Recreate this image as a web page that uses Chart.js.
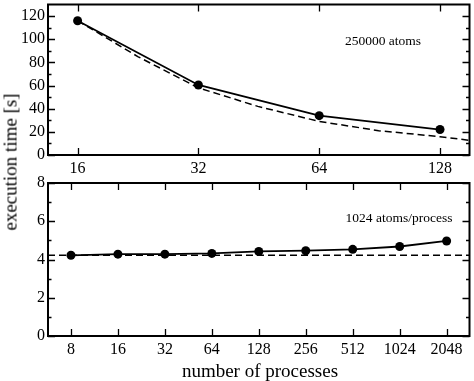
<!DOCTYPE html>
<html>
<head>
<meta charset="utf-8">
<script src="https://cdn.jsdelivr.net/npm/chart.js@4.4.1/dist/chart.umd.min.js"></script>
<style>
  html, body { margin: 0; padding: 0; background: #fff; }
  #wrap { position: relative; width: 474px; height: 381px; overflow: hidden; font-family: 'Liberation Serif', 'DejaVu Serif', serif; color: #000; }
  #wrap canvas { position: absolute; left: 0; }
  .txt { position: absolute; white-space: nowrap; line-height: 1; }
</style>
</head>
<body>
<div id="wrap">
  <canvas id="topChart" width="474" height="175" style="top:0"></canvas>
  <canvas id="botChart" width="474" height="206" style="top:175px"></canvas>
  <div class="txt" style="left:383px; top:34px; font-size:13.5px; transform:translateX(-50%)">250000 atoms</div>
  <div class="txt" style="left:399px; top:211px; font-size:13.5px; transform:translateX(-50%)">1024 atoms/process</div>
  <div class="txt" style="left:260px; top:361px; font-size:19px; transform:translateX(-50%)">number of processes</div>
  <div class="txt" style="left:9.5px; top:162px; font-size:19px; transform:translate(-50%,-50%) rotate(-90deg)">execution time [s]</div>
</div>
<script>
// strong scaling, 250000 atoms
var procTop = [16, 32, 64, 128];
var timeTop = [116, 60.5, 34, 22];
// ideal scaling line
var idealTopX = [16, 22.6, 32, 45, 64, 90, 128, 151.6];
var idealTopY = [116, 85, 58, 42, 29, 21, 15.8, 12.7];
var yTicksTop = [0, 10, 20, 30, 40, 50, 60, 70, 80, 90, 100, 110, 120];

// weak scaling, 1024 atoms/process
var procBot = [8, 16, 32, 64, 128, 256, 512, 1024, 2048];
var timeBot = [4.22, 4.28, 4.28, 4.32, 4.42, 4.46, 4.53, 4.68, 4.97];
var idealBotX = [5.7, 2871];
var idealBotY = [4.22, 4.22];
var yTicksBot = [0, 1, 2, 3, 4, 5, 6, 7, 8];

var serif = "'Liberation Serif', 'DejaVu Serif', serif";

function pts(xs, ys){
	var out = [];
	for(var i=0; i<xs.length; i++){
		out.push({x: xs[i], y: ys[i]});
	}
	return out;
}

// frame plus inward ticks on all four sides
var frameTicks = {
	id: 'frameTicks',
	afterDraw: function(chart, args, opts){
		var ctx = chart.ctx;
		var a = chart.chartArea;
		var xs = chart.scales.x, ys = chart.scales.y;
		ctx.save();
		ctx.strokeStyle = '#000';
		ctx.lineWidth = 1.3;
		ctx.beginPath();
		xs.ticks.forEach(function(t){
			var px = Math.round(xs.getPixelForValue(t.value)) + 0.5;
			ctx.moveTo(px, a.bottom); ctx.lineTo(px, a.bottom - 7);
			ctx.moveTo(px, a.top); ctx.lineTo(px, a.top + 7);
		});
		ys.ticks.forEach(function(t){
			var py = Math.round(ys.getPixelForValue(t.value)) + 0.5;
			var len = (t.value % opts.major === 0) ? 7 : 3.5;
			ctx.moveTo(a.left, py); ctx.lineTo(a.left + len, py);
			ctx.moveTo(a.right, py); ctx.lineTo(a.right - len, py);
		});
		ctx.stroke();
		ctx.lineWidth = 2;
		ctx.strokeRect(a.left, a.top, a.right - a.left, a.bottom - a.top);
		ctx.restore();
	}
};

function makeOptions(xmin, xmax, xticks, ymin, ymax, yticks, major, xh, pad){
	return {
		responsive: false,
		animation: false,
		layout: { padding: pad },
		plugins: { legend: { display: false }, tooltip: { enabled: false }, frameTicks: { major: major } },
		scales: {
			x: {
				type: 'logarithmic',
				min: xmin, max: xmax,
				grid: { display: false, drawTicks: false },
				border: { display: false },
				afterBuildTicks: function(s){ s.ticks = xticks.map(function(v){ return {value: v}; }); },
				afterFit: function(s){ s.height = xh; s.paddingLeft = 0; s.paddingRight = 0; },
				ticks: {
					padding: 4, color: '#000', maxRotation: 0, autoSkip: false,
					font: { family: serif, size: 16 },
					callback: function(v){ return String(v); }
				}
			},
			y: {
				min: ymin, max: ymax,
				grid: { display: false, drawTicks: false },
				border: { display: false },
				afterBuildTicks: function(s){ s.ticks = yticks.map(function(v){ return {value: v}; }); },
				afterFit: function(s){ s.width = 48; s.paddingTop = 0; s.paddingBottom = 0; },
				ticks: {
					padding: 3, color: '#000', autoSkip: false,
					font: { family: serif, size: 16 },
					callback: function(v){ return (v % major === 0) ? String(v) : ''; }
				}
			}
		}
	};
}

function datasets(px, py, ix, iy){
	return [
		{
			data: pts(px, py), borderColor: '#000', backgroundColor: '#000', borderWidth: 1.8,
			pointRadius: 4.5, pointBorderWidth: 0, pointBackgroundColor: '#000', tension: 0
		},
		{
			data: pts(ix, iy), borderColor: '#000', borderWidth: 1.5, borderDash: [7, 4],
			pointRadius: 0, tension: 0
		}
	];
}

new Chart(document.getElementById('topChart'), {
	type: 'line',
	data: { datasets: datasets(procTop, timeTop, idealTopX, idealTopY) },
	options: makeOptions(13.5, 151.6, procTop, 0, 130, yTicksTop, 20, 20, {top: 1, right: 2, left: 0, bottom: 0}),
	plugins: [frameTicks]
});

new Chart(document.getElementById('botChart'), {
	type: 'line',
	data: { datasets: datasets(procBot, timeBot, idealBotX, idealBotY) },
	options: makeOptions(5.7, 2871, procBot, 0, 8, yTicksBot, 2, 45, {top: 8, right: 2, left: 0, bottom: 0}),
	plugins: [frameTicks]
});
</script>
</body>
</html>
